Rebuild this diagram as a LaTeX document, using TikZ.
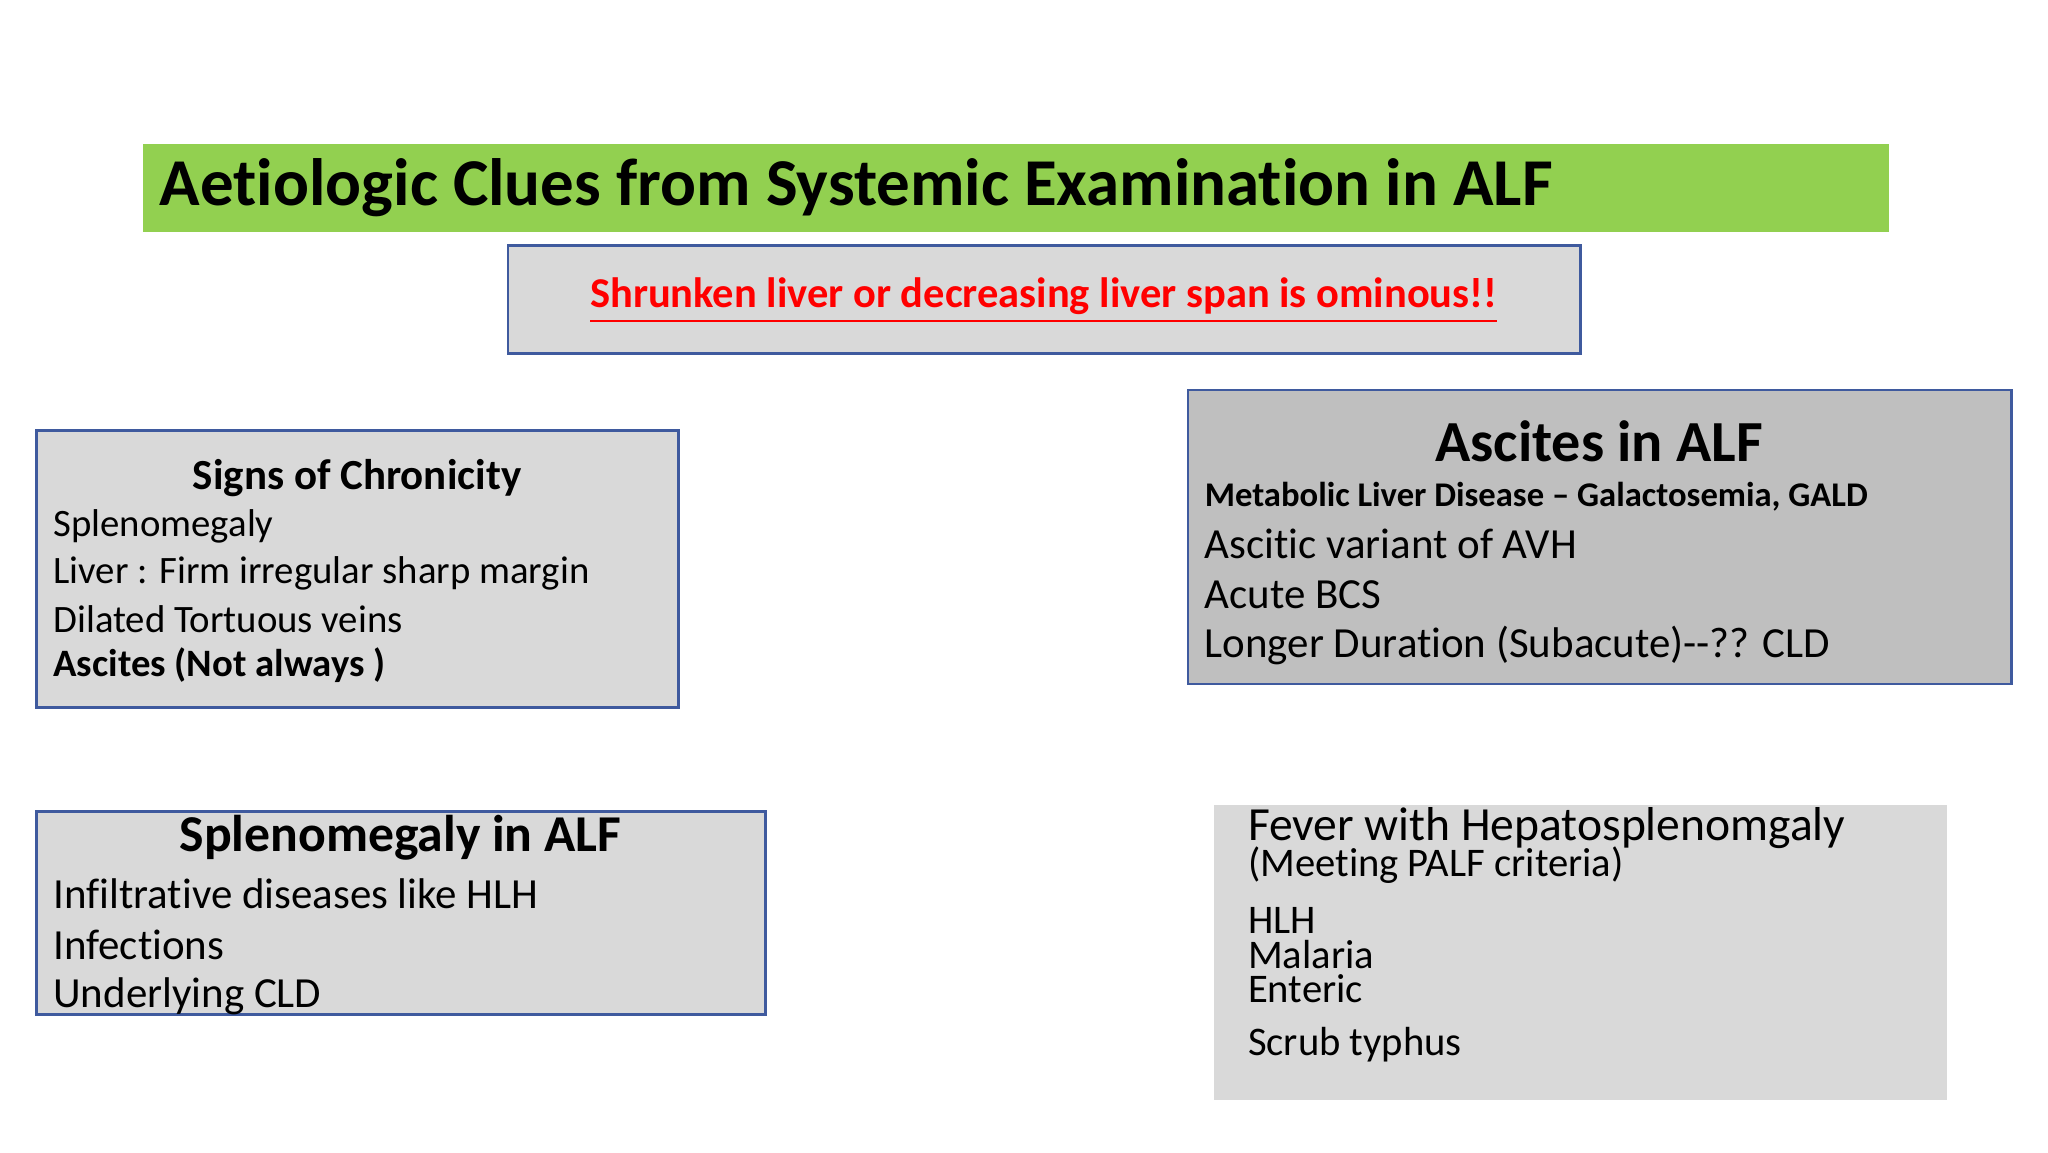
\documentclass[tikz,border=0pt]{standalone}
\usepackage{fontspec}
\setmainfont{Carlito}[Ligatures=NoCommon]
\begin{document}
\begin{tikzpicture}[x=0.01cm,y=-0.01cm,
  box/.style={draw=bcol,line width=0.6pt},
  txt/.style={anchor=west,inner sep=0pt},
  ctr/.style={inner sep=0pt}]
\definecolor{bcol}{HTML}{3F5A9E}
\useasboundingbox (0,0) rectangle (1560,877.5);
\definecolor{lgreen}{HTML}{92D050}
\definecolor{lgray}{HTML}{D9D9D9}
\definecolor{mgray}{HTML}{BFBFBF}
\fill[lgreen] (109,110) rectangle (1439,177);
\node[txt,font=\fontsize{14.5}{18}\selectfont\bfseries] (title) at (121,143) {Aetiologic Clues from Systemic Examination in ALF};
\draw[box,fill=lgray] (387,187) rectangle (1204,269);
\node[ctr,font=\fontsize{9.2}{11}\selectfont\bfseries,text=red] (shr) at (795,229) {\underline{Shrunken liver or decreasing liver span is ominous!!}};
\draw[box,fill=lgray] (28,328) rectangle (517,539);
\node[ctr,font=\fontsize{9.3}{11}\selectfont\bfseries] (sc) at (272,364) {Signs of Chronicity};
\begin{scope}[font=\fontsize{8.4}{10}\selectfont]
\node[txt] (s1) at (40,401) {Splenomegaly};
\node[txt] (s2) at (40,437) {Liver : Firm irregular sharp margin};
\node[txt] (s3) at (40,472) {Dilated Tortuous veins};
\node[txt,font=\fontsize{8.4}{10}\selectfont\bfseries] (s4) at (40,507) {Ascites (Not always )};
\end{scope}
\draw[box,fill=mgray] (905,297) rectangle (1532,521);
\node[ctr,font=\fontsize{12.6}{15}\selectfont\bfseries] (asc) at (1218,336) {Ascites in ALF};
\node[txt,font=\fontsize{7.5}{9}\selectfont\bfseries] (a0) at (917,378) {Metabolic Liver Disease -- Galactosemia, GALD};
\begin{scope}[font=\fontsize{9.3}{11}\selectfont]
\node[txt] (a1) at (917,414) {Ascitic variant of AVH};
\node[txt] (a2) at (917,453) {Acute BCS};
\node[txt] (a3) at (917,492) {Longer Duration (Subacute){-}{-}?? CLD};
\end{scope}
\draw[box,fill=lgray] (28,618) rectangle (583,773);
\node[ctr,font=\fontsize{11.2}{13}\selectfont\bfseries] (sp) at (305,638) {Splenomegaly in ALF};
\begin{scope}[font=\fontsize{9.3}{11}\selectfont]
\node[txt] (p1) at (40,681) {Infiltrative diseases like HLH};
\node[txt] (p2) at (40,720) {Infections};
\node[txt] (p3) at (40,759) {Underlying CLD};
\end{scope}
\fill[lgray] (925,613) rectangle (1483,838);
\node[txt,font=\fontsize{10.3}{12}\selectfont] (f0) at (950,631) {Fever with Hepatosplenomgaly};
\begin{scope}[font=\fontsize{8.8}{10}\selectfont]
\node[txt] (f1) at (950,659) {(Meeting PALF criteria)};
\node[txt] (f2) at (950,701) {HLH};
\node[txt] (f3) at (950,727) {Malaria};
\node[txt] (f4) at (950,753) {Enteric};
\node[txt] (f5) at (950,796) {Scrub typhus};
\end{scope}
\end{tikzpicture}
\end{document}
